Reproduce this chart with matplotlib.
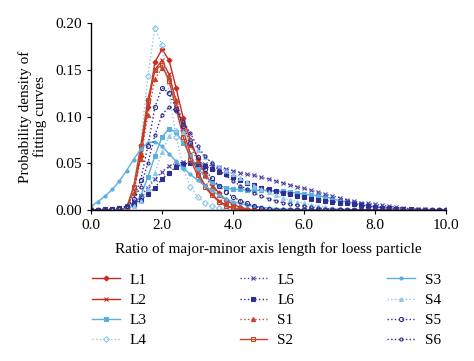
import matplotlib
matplotlib.use("Agg")
import matplotlib.pyplot as plt

x_vals = [round(0.2 * i, 1) for i in range(51)]

L1 = [0, 0, 0, 0, 0, 0.002, 0.020, 0.058, 0.110, 0.158, 0.172, 0.160, 0.130, 0.098, 0.075,
      0.055, 0.040, 0.028, 0.018, 0.011, 0.006, 0.003, 0.001, 0, 0, 0, 0, 0, 0, 0,
      0, 0, 0, 0, 0, 0, 0, 0, 0, 0, 0, 0, 0, 0, 0, 0, 0, 0, 0, 0, 0]
L2 = [0, 0, 0, 0, 0, 0.002, 0.022, 0.062, 0.112, 0.150, 0.160, 0.145, 0.115, 0.085, 0.060,
      0.041, 0.027, 0.017, 0.010, 0.005, 0.002, 0.001, 0, 0, 0, 0, 0, 0, 0, 0,
      0, 0, 0, 0, 0, 0, 0, 0, 0, 0, 0, 0, 0, 0, 0, 0, 0, 0, 0, 0, 0]
L3 = [0, 0, 0, 0, 0, 0.001, 0.005, 0.015, 0.035, 0.058, 0.078, 0.087, 0.083, 0.072, 0.058,
      0.045, 0.036, 0.030, 0.026, 0.024, 0.022, 0.022, 0.021, 0.021, 0.021, 0.021, 0.020, 0.020, 0.019, 0.018,
      0.017, 0.016, 0.015, 0.014, 0.012, 0.010, 0.009, 0.0075, 0.006, 0.0045, 0.0035, 0.0025, 0.0018, 0.0012, 0.0008, 0.0005, 0.0003, 0.0002, 0.0001, 0, 0]
L4 = [0, 0, 0, 0, 0.001, 0.004, 0.020, 0.070, 0.143, 0.195, 0.176, 0.125, 0.078, 0.045, 0.025,
      0.014, 0.008, 0.004, 0.002, 0.001, 0, 0, 0, 0, 0, 0, 0, 0, 0, 0,
      0, 0, 0, 0, 0, 0, 0, 0, 0, 0, 0, 0, 0, 0, 0, 0, 0, 0, 0, 0, 0]
L5 = [0, 0, 0.001, 0.001, 0.002, 0.004, 0.008, 0.015, 0.024, 0.033, 0.041, 0.047, 0.050, 0.051, 0.051,
      0.050, 0.049, 0.047, 0.046, 0.044, 0.042, 0.040, 0.038, 0.037, 0.035, 0.033, 0.031, 0.029, 0.027, 0.025,
      0.023, 0.021, 0.019, 0.017, 0.015, 0.013, 0.011, 0.0095, 0.008, 0.007, 0.006, 0.005, 0.004, 0.003, 0.002, 0.0015, 0.001, 0.0007, 0.0004, 0.0002, 0.0001]
L6 = [0, 0, 0.001, 0.001, 0.002, 0.003, 0.006, 0.011, 0.017, 0.024, 0.033, 0.040, 0.046, 0.049, 0.050,
      0.049, 0.047, 0.044, 0.041, 0.038, 0.035, 0.032, 0.029, 0.027, 0.024, 0.022, 0.020, 0.018, 0.017, 0.015,
      0.014, 0.012, 0.011, 0.010, 0.009, 0.008, 0.007, 0.006, 0.005, 0.004, 0.003, 0.0025, 0.002, 0.0015, 0.001, 0.0008, 0.0005, 0.0003, 0.0002, 0.0001, 0]
S1 = [0, 0, 0, 0, 0, 0.001, 0.018, 0.055, 0.102, 0.140, 0.152, 0.142, 0.118, 0.092, 0.070,
      0.052, 0.037, 0.025, 0.016, 0.010, 0.006, 0.003, 0.001, 0, 0, 0, 0, 0, 0, 0,
      0, 0, 0, 0, 0, 0, 0, 0, 0, 0, 0, 0, 0, 0, 0, 0, 0, 0, 0, 0, 0]
S2 = [0, 0, 0, 0, 0, 0.002, 0.025, 0.068, 0.118, 0.150, 0.155, 0.138, 0.108, 0.078, 0.054,
      0.037, 0.025, 0.016, 0.009, 0.004, 0.002, 0.001, 0, 0, 0, 0, 0, 0, 0, 0,
      0, 0, 0, 0, 0, 0, 0, 0, 0, 0, 0, 0, 0, 0, 0, 0, 0, 0, 0, 0, 0]
S3 = [0.004, 0.009, 0.015, 0.022, 0.031, 0.042, 0.054, 0.065, 0.072, 0.073, 0.068, 0.060, 0.052, 0.045, 0.038,
      0.032, 0.026, 0.021, 0.016, 0.012, 0.009, 0.007, 0.005, 0.004, 0.003, 0.002, 0.0015, 0.001, 0.0007, 0.0005,
      0.0003, 0.0002, 0.0001, 0, 0, 0, 0, 0, 0, 0, 0, 0, 0, 0, 0, 0, 0, 0, 0, 0, 0]
S4 = [0, 0, 0, 0, 0, 0.001, 0.004, 0.010, 0.022, 0.040, 0.062, 0.079, 0.086, 0.083, 0.074,
      0.064, 0.057, 0.051, 0.046, 0.042, 0.038, 0.034, 0.030, 0.026, 0.022, 0.019, 0.016, 0.013, 0.011, 0.009,
      0.007, 0.0055, 0.004, 0.003, 0.002, 0.0015, 0.001, 0.0006, 0.0003, 0, 0, 0, 0, 0, 0, 0, 0, 0, 0, 0, 0]
S5 = [0, 0, 0, 0.001, 0.002, 0.004, 0.012, 0.032, 0.068, 0.110, 0.131, 0.125, 0.108, 0.090, 0.072,
      0.057, 0.044, 0.034, 0.026, 0.019, 0.014, 0.010, 0.007, 0.004, 0.002, 0.001, 0, 0, 0, 0,
      0, 0, 0, 0, 0, 0, 0, 0, 0, 0, 0, 0, 0, 0, 0, 0, 0, 0, 0, 0, 0]
S6 = [0, 0, 0, 0.001, 0.002, 0.003, 0.010, 0.025, 0.050, 0.080, 0.102, 0.110, 0.106, 0.095, 0.082,
      0.068, 0.058, 0.050, 0.043, 0.037, 0.031, 0.026, 0.022, 0.018, 0.015, 0.012, 0.010, 0.008, 0.006, 0.005,
      0.004, 0.003, 0.002, 0.0015, 0.001, 0.0007, 0.0004, 0.0002, 0.0001, 0, 0, 0, 0, 0, 0, 0, 0, 0, 0, 0, 0]

series_names = ["L1", "L2", "L3", "L4", "L5", "L6", "S1", "S2", "S3", "S4", "S5", "S6"]
series_values = [L1, L2, L3, L4, L5, L6, S1, S2, S3, S4, S5, S6]

xtick_vals = [0, 2, 4, 6, 8, 10]
ytick_vals = [0.0, 0.05, 0.10, 0.15, 0.20]

red = "#cc2a1c"
red2 = "#c4452a"
lblue = "#5aaee0"
lblue2 = "#8ec6ee"
dblue = "#2f2f93"
purple = "#4b44a6"

styles = {
    "L1": dict(color=red, ls="-", marker="D", ms=2.5, mfc=red),
    "L2": dict(color=red, ls="-", marker="x", ms=3),
    "L3": dict(color=lblue, ls="-", marker="s", ms=2.5, mfc=lblue),
    "L4": dict(color=lblue2, ls=":", marker="D", ms=3, mfc="none"),
    "L5": dict(color=purple, ls=":", marker="x", ms=3),
    "L6": dict(color=dblue, ls=":", marker="s", ms=2.8, mfc=dblue),
    "S1": dict(color=red2, ls=":", marker="^", ms=3, mfc=red2),
    "S2": dict(color=red2, ls="-", marker="s", ms=2.8, mfc="none"),
    "S3": dict(color=lblue, ls="-", marker="o", ms=2.2, mfc=lblue),
    "S4": dict(color=lblue2, ls=":", marker="^", ms=2.8, mfc=lblue2),
    "S5": dict(color=dblue, ls=":", marker="o", ms=3, mfc="none"),
    "S6": dict(color=dblue, ls=":", marker="o", ms=2.2, mfc="none"),
}

plt.rcParams["font.family"] = ["Liberation Serif", "DejaVu Serif"]

fig = plt.figure(figsize=(4.74, 3.61), dpi=100)
ax = fig.add_axes([91 / 474, 1 - 210 / 361, 355 / 474, 187 / 361])

for name, vals in zip(series_names, series_values):
    st = styles[name]
    ax.plot(x_vals, vals, label=name, lw=1.0, mew=0.8, **st)

ax.set_xlim(0, 10)
ax.set_ylim(0, 0.20)
ax.set_xticks(xtick_vals)
ax.set_xticklabels([f"{v:.1f}" for v in xtick_vals])
ax.set_yticks(ytick_vals)
ax.set_yticklabels([f"{v:.2f}" for v in ytick_vals])
ax.tick_params(labelsize=11, length=3, width=0.8, direction="out", colors="black")
for s in ["top", "right"]:
    ax.spines[s].set_visible(False)
for s in ["left", "bottom"]:
    ax.spines[s].set_linewidth(1.0)
    ax.spines[s].set_color("black")

ax.set_xlabel("Ratio of major-minor axis length for loess particle", fontsize=11, labelpad=7)
ax.set_ylabel("Probability density of\nfitting curves", fontsize=11, labelpad=6, linespacing=1.1)

leg = fig.legend(loc="upper left", bbox_to_anchor=(92 / 474, 1 - 273 / 361), ncol=3,
                 frameon=False, fontsize=11, handlelength=1.8, handletextpad=0.65,
                 columnspacing=6.1, labelspacing=0.43, borderaxespad=0, borderpad=0)
fig.savefig("out.png", dpi=100)
